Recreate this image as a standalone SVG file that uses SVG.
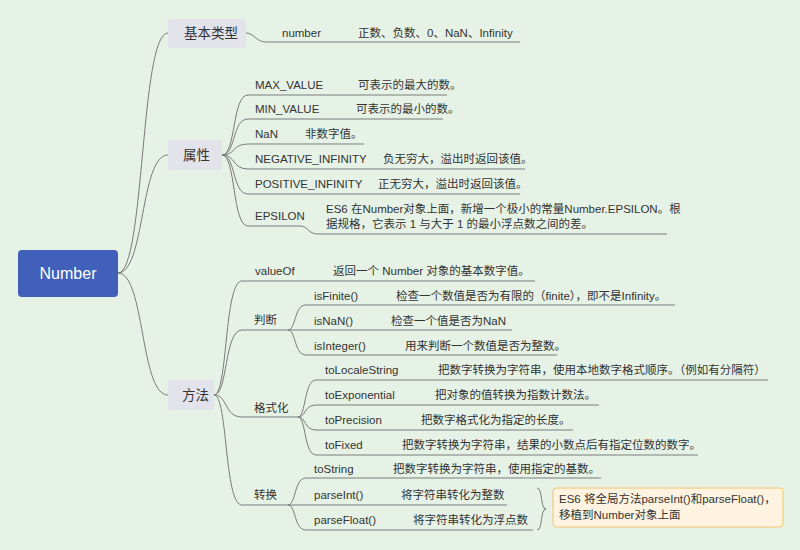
<svg xmlns="http://www.w3.org/2000/svg" width="800" height="550" viewBox="0 0 800 550">
<style>
text{font-family:"Liberation Sans","Noto Sans CJK SC",sans-serif;font-size:11.5px;fill:#333}
.c{fill:none;stroke:#7a7a7a;stroke-width:1}
.b{fill:#e3e3ec}
.bt{font-size:13.5px}
</style>
<rect width="800" height="550" fill="#e6f2e6"/>
<g id="connectors">
<path class="c" d="M118,273 C145,273 140,33 168,33"/>
<path class="c" d="M118,273 C145,273 140,155 168,155"/>
<path class="c" d="M118,273 C145,273 140,395 168,395"/>
<path class="c" d="M246,33 C254,33 256,42 266,42 L520,42"/>
<path class="c" d="M222,155 C236,155 232,95 248,95 L447,95"/>
<path class="c" d="M222,155 C236,155 232,119 248,119 L443,119"/>
<path class="c" d="M222,155 C236,155 232,144 248,144 L364,144"/>
<path class="c" d="M222,155 C236,155 232,169 248,169 L525,169"/>
<path class="c" d="M222,155 C236,155 232,194 248,194 L520,194"/>
<path class="c" d="M222,155 C236,155 232,226 248,226 L300,226 C308,226 308,234 318,234 L667,234"/>
<path class="c" d="M214,395 C228,395 224,281 242,281 L535,281"/>
<path class="c" d="M214,395 C228,395 224,330 242,330 L288,330"/>
<path class="c" d="M214,395 C228,395 224,417 242,417 L298,417"/>
<path class="c" d="M214,395 C228,395 224,505 242,505 L288,505"/>
<path class="c" d="M288,330 C296,330 294,305 306,305 L675,305"/>
<path class="c" d="M288,330 L512,330"/>
<path class="c" d="M288,330 C296,330 294,355 306,355 L557,355"/>
<path class="c" d="M298,417 C306,417 304,380 316,380 L768,380"/>
<path class="c" d="M298,417 C306,417 304,405 316,405 L599,405"/>
<path class="c" d="M298,417 C306,417 304,430 316,430 L573,430"/>
<path class="c" d="M298,417 C306,417 304,455 316,455 L698,455"/>
<path class="c" d="M288,505 C296,505 294,478 306,478 L601,478"/>
<path class="c" d="M288,505 L507,505"/>
<path class="c" d="M288,505 C296,505 294,530 306,530 L533,530"/>
<path class="c" d="M537,488 C543,488 540,509 546,509 C540,509 543,530 537,530" stroke="#f2c46a" fill="none"/>
</g>
<g id="root"><rect x="18" y="250" width="100" height="47" rx="4" fill="#4060ba"/><text x="68" y="279" text-anchor="middle" style="font-size:16px;fill:#fff">Number</text></g>
<g id="n-basic"><rect class="b" x="168" y="19" width="78" height="29" rx="3"/><text class="bt" x="184" y="38">基本类型</text></g>
<g id="n-prop"><rect class="b" x="168" y="140" width="54" height="30" rx="3"/><text class="bt" x="183" y="160">属性</text></g>
<g id="n-method"><rect class="b" x="168" y="380" width="46" height="30" rx="3"/><text class="bt" x="182" y="400">方法</text></g>
<g id="leaf-number"><text x="282" y="37">number</text><text x="358" y="37">正数、负数、0、NaN、Infinity</text></g>
<g id="leaf-max"><text x="255" y="89">MAX_VALUE</text><text x="358" y="89">可表示的最大的数。</text></g>
<g id="leaf-min"><text x="255" y="113">MIN_VALUE</text><text x="356" y="113">可表示的最小的数。</text></g>
<g id="leaf-nan"><text x="255" y="138">NaN</text><text x="305" y="138">非数字值。</text></g>
<g id="leaf-neg"><text x="255" y="163">NEGATIVE_INFINITY</text><text x="383" y="163">负无穷大，溢出时返回该值。</text></g>
<g id="leaf-pos"><text x="255" y="188">POSITIVE_INFINITY</text><text x="378" y="188">正无穷大，溢出时返回该值。</text></g>
<g id="leaf-eps"><text x="255" y="220">EPSILON</text><text x="326" y="213">ES6 在Number对象上面，新增一个极小的常量Number.EPSILON。根</text><text x="326" y="228">据规格，它表示 1 与大于 1 的最小浮点数之间的差。</text></g>
<g id="leaf-valueof"><text x="255" y="275">valueOf</text><text x="333" y="275">返回一个 Number 对象的基本数字值。</text></g>
<g id="g-judge"><text x="254" y="324">判断</text></g>
<g id="leaf-isfinite"><text x="314" y="300">isFinite()</text><text x="396" y="300">检查一个数值是否为有限的（finite），即不是Infinity。</text></g>
<g id="leaf-isnan"><text x="314" y="325">isNaN()</text><text x="391" y="325">检查一个值是否为NaN</text></g>
<g id="leaf-isint"><text x="314" y="350">isInteger()</text><text x="405" y="350">用来判断一个数值是否为整数。</text></g>
<g id="g-format"><text x="254" y="412">格式化</text></g>
<g id="leaf-locale"><text x="325" y="374">toLocaleString</text><text x="438" y="374">把数字转换为字符串，使用本地数字格式顺序。（例如有分隔符）</text></g>
<g id="leaf-exp"><text x="325" y="399">toExponential</text><text x="435" y="399">把对象的值转换为指数计数法。</text></g>
<g id="leaf-prec"><text x="325" y="424">toPrecision</text><text x="421" y="424">把数字格式化为指定的长度。</text></g>
<g id="leaf-fixed"><text x="325" y="449">toFixed</text><text x="402" y="449">把数字转换为字符串，结果的小数点后有指定位数的数字。</text></g>
<g id="g-convert"><text x="254" y="499">转换</text></g>
<g id="leaf-tostring"><text x="314" y="473">toString</text><text x="393" y="473">把数字转换为字符串，使用指定的基数。</text></g>
<g id="leaf-parseint"><text x="314" y="499">parseInt()</text><text x="401" y="499">将字符串转化为整数</text></g>
<g id="leaf-parsefloat"><text x="314" y="524">parseFloat()</text><text x="413" y="524">将字符串转化为浮点数</text></g>
<g id="note"><rect x="553" y="488" width="230" height="39" rx="3" fill="#fdf3e0" stroke="#f2c46a"/><text x="559" y="503">ES6 将全局方法parseInt()和parseFloat()，</text><text x="559" y="519">移植到Number对象上面</text></g>
</svg>
